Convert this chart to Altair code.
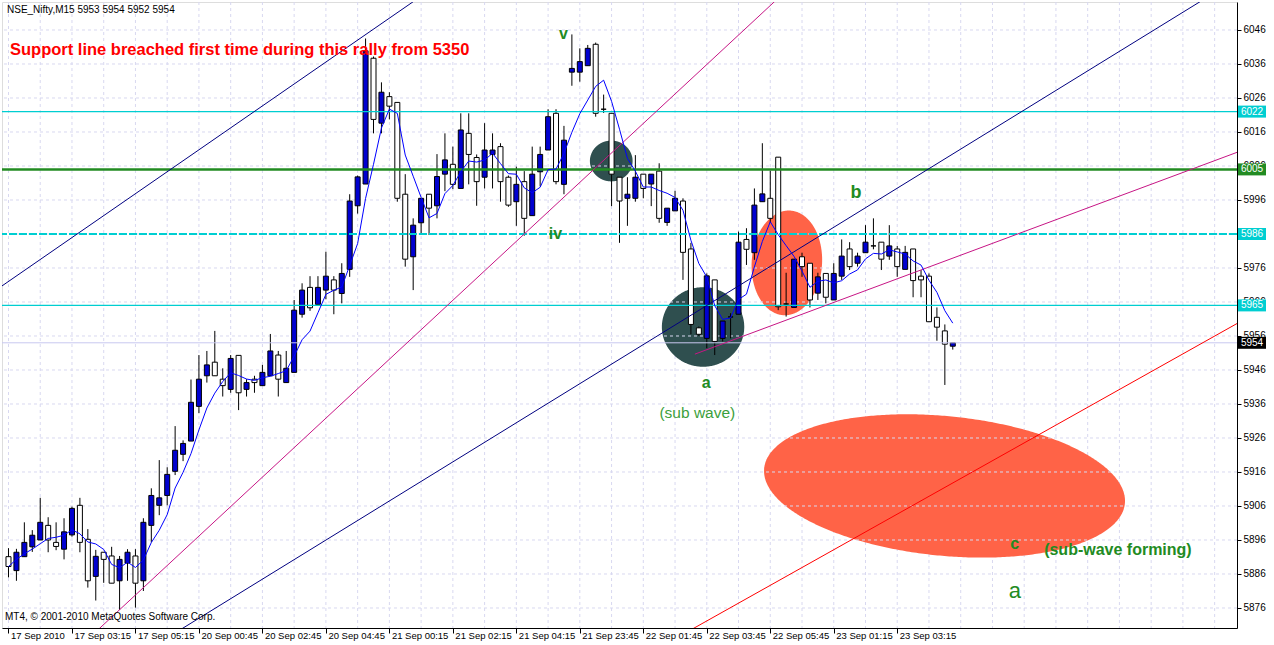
import altair as alt
import numpy as np
import pandas as pd

# ---- NSE_Nifty, M15 candles (one row per 15-minute bar) ----
opens = [5891.1, 5887.0, 5891.1, 5894.0, 5896.0, 5900.3, 5895.3, 5893.3, 5897.5, 5906.2,
         5896.2, 5885.3, 5892.4, 5891.3, 5884.0, 5889.2, 5891.3, 5884.0, 5900.3, 5906.2,
         5909.1, 5916.2, 5921.2, 5925.1, 5935.3, 5944.3, 5948.3, 5943.3, 5940.3, 5950.3,
         5940.3, 5943.3, 5941.4, 5944.3, 5950.4, 5942.3, 5945.3, 5962.4, 5970.3, 5965.3,
         5969.5, 5972.5, 5968.5, 5975.6, 5994.3, 6000.7, 6037.7, 6018.6, 6026.4, 6024.7,
         5997.7, 5979.3, 5989.3, 5997.7, 5994.3, 6003.6, 6006.5, 5999.4, 6015.6, 6008.5,
         6002.7, 6009.4, 6011.7, 6002.7, 5995.5, 6001.4, 5991.4, 6004.3, 6010.7, 6021.5,
         6000.6, 6033.6, 6033.6, 6035.5, 6041.8, 6022.7, 6021.5, 6002.7, 5996.5, 5996.5,
         6003.6, 6000.7, 6004.5, 5989.4, 5992.8, 5995.7, 5981.6, 5958.4, 5955.3, 5972.5,
         5955.3, 5961.6, 5962.4, 5984.4, 5980.5, 5995.5, 5996.5, 6008.6, 5965.4, 5964.4,
         5979.3, 5977.4, 5968.6, 5974.4, 5966.6, 5973.6, 5981.6, 5977.4, 5980.5, 5982.5,
         5983.6, 5979.5, 5981.6, 5975.6, 5981.6, 5973.6, 5973.6, 5961.5, 5957.5, 5953.0]
highs = [5893.6, 5893.4, 5901.2, 5898.9, 5908.4, 5902.7, 5901.2, 5902.4, 5905.8, 5908.4,
         5899.2, 5893.1, 5892.4, 5894.0, 5891.3, 5893.3, 5893.3, 5902.4, 5911.2, 5919.5,
         5917.4, 5929.5, 5925.3, 5943.2, 5950.4, 5951.6, 5957.5, 5946.5, 5950.4, 5950.3,
         5943.3, 5944.3, 5947.5, 5956.6, 5951.6, 5951.6, 5966.6, 5971.5, 5973.6, 5973.6,
         5980.8, 5973.6, 5977.4, 5997.7, 6003.2, 6043.5, 6038.2, 6030.6, 6027.7, 6024.7,
         6003.6, 5990.6, 5996.5, 5997.7, 6009.5, 6015.6, 6011.7, 6021.5, 6021.5, 6009.4,
         6018.6, 6015.6, 6012.7, 6003.2, 6005.8, 6004.5, 6011.7, 6011.7, 6022.7, 6022.7,
         6017.8, 6044.7, 6040.6, 6041.6, 6042.3, 6027.0, 6021.5, 6002.7, 6002.7, 6009.2,
         6003.6, 6003.6, 6006.8, 5993.6, 5998.7, 5996.5, 5983.4, 5958.8, 5974.4, 5972.5,
         5960.4, 5962.7, 5986.7, 5987.7, 5999.4, 6012.7, 6004.6, 6008.6, 5974.6, 5978.6,
         5980.5, 5977.4, 5974.6, 5974.4, 5977.4, 5984.4, 5983.6, 5980.5, 5988.6, 5990.6,
         5983.6, 5988.6, 5982.5, 5982.5, 5981.6, 5975.4, 5974.4, 5964.4, 5959.4, 5954.0]
lows = [5885.0, 5884.0, 5891.1, 5892.5, 5896.0, 5892.4, 5893.0, 5890.3, 5897.0, 5892.4,
        5882.0, 5878.2, 5883.4, 5883.3, 5875.4, 5884.0, 5876.1, 5881.0, 5895.3, 5903.3,
        5906.2, 5915.1, 5919.2, 5925.1, 5933.3, 5942.3, 5944.3, 5938.2, 5939.3, 5934.2,
        5938.2, 5939.3, 5941.4, 5944.3, 5938.2, 5942.3, 5945.3, 5961.4, 5963.4, 5965.3,
        5966.8, 5962.4, 5965.6, 5973.4, 5992.0, 6000.7, 6015.6, 6015.6, 6019.7, 5995.5,
        5976.4, 5969.5, 5985.7, 5985.7, 5990.6, 5998.6, 5999.2, 5999.4, 6000.6, 5994.3,
        5999.4, 5999.4, 5995.5, 5994.0, 5988.4, 5985.5, 5991.4, 6000.0, 6010.7, 6000.6,
        5997.7, 6029.6, 6030.8, 6035.5, 6020.5, 6021.6, 5994.2, 5983.4, 5988.4, 5995.5,
        5996.5, 5994.2, 5989.3, 5988.4, 5992.8, 5972.5, 5956.5, 5956.0, 5952.4, 5950.4,
        5954.4, 5955.3, 5962.4, 5976.9, 5978.4, 5995.5, 5989.3, 5963.6, 5961.7, 5964.4,
        5973.4, 5964.4, 5966.6, 5965.6, 5966.6, 5972.5, 5975.4, 5976.4, 5980.5, 5981.5,
        5975.4, 5978.4, 5973.4, 5975.6, 5967.4, 5967.4, 5960.2, 5954.6, 5941.6, 5952.0]
closes = [5888.2, 5892.4, 5895.3, 5897.4, 5901.2, 5896.0, 5894.1, 5898.4, 5905.3, 5895.3,
          5884.0, 5891.2, 5890.3, 5883.3, 5890.3, 5892.4, 5883.3, 5901.2, 5909.1, 5908.4,
          5915.3, 5922.4, 5924.4, 5936.5, 5943.3, 5947.5, 5944.3, 5941.4, 5949.4, 5939.3,
          5942.3, 5942.3, 5945.3, 5951.6, 5943.3, 5946.5, 5963.6, 5969.5, 5964.3, 5970.3,
          5973.6, 5969.5, 5974.4, 5995.7, 6002.8, 6039.9, 6019.7, 6027.7, 6023.6, 5996.5,
          5978.6, 5988.6, 5996.5, 5993.6, 6002.9, 6007.8, 6000.6, 6016.6, 6009.4, 6001.4,
          6010.7, 6010.7, 6001.4, 5994.5, 6000.6, 5990.6, 6003.6, 6009.4, 6020.5, 6001.4,
          6013.6, 6034.7, 6036.7, 6040.6, 6021.5, 6022.7, 6003.6, 5995.7, 5997.7, 6002.7,
          5999.4, 6003.6, 5990.6, 5993.6, 5996.5, 5980.6, 5959.4, 5956.5, 5973.7, 5954.4,
          5960.4, 5961.6, 5983.6, 5981.5, 5994.5, 5997.8, 5990.6, 5964.6, 5965.4, 5978.6,
          5976.4, 5966.6, 5973.4, 5967.4, 5974.4, 5979.5, 5976.4, 5979.5, 5983.6, 5982.5,
          5978.6, 5982.5, 5976.4, 5980.6, 5972.3, 5972.5, 5960.2, 5958.6, 5953.6, 5954.0]

# time axis labels, one every 8 bars (2 hours)
time_labels = ["17 Sep 2010", "17 Sep 03:15", "17 Sep 05:15", "20 Sep 00:45", "20 Sep 02:45",
               "20 Sep 04:45", "21 Sep 00:15", "21 Sep 02:15", "21 Sep 04:15", "21 Sep 23:45",
               "22 Sep 01:45", "22 Sep 03:45", "22 Sep 05:45", "23 Sep 01:15", "23 Sep 03:15"]
price_ticks = list(range(5876, 6047, 10))

# horizontal price levels and their axis tags
cyan_levels = [6022, 5965]
cyan_dashed_levels = [5986]
green_levels = [6005]
bid_price = [5954]
tag_prices = [6022, 6005, 5986, 5965, 5954]
tag_fill = ["#00ced1", "#228b22", "#00ced1", "#00ced1", "#000000"]

# trend lines: two anchors (bar, price) each, drawn between the from/to bars
trend_color = ["#000080", "#c71585", "#000080", "#c71585", "#ff0000"]
trend_b1 = [34.59, 13.96, 76.99, 89.59, 87.09]
trend_p1 = [6027.85, 5875.40, 5949.15, 5953.35, 5871.00]
trend_b2 = [45.84, 74.59, 120.84, 120.84, 154.11]
trend_p2 = [6046.00, 6006.79, 6012.18, 5980.50, 5958.74]
trend_from = [-5, -5, 20, 86.5, 80]
trend_to = [60, 100, 170, 170, 170]

# ellipses: centre (bar, price) and two conjugate half-axis vectors (bars, price)
ell_color = ["#2f4f4f", "#2f4f4f", "#ff6347", "#ff6347"]
ell_cb = [75.96, 87.53, 98.09, 117.96]
ell_cp = [6007.47, 5958.65, 5977.50, 5911.90]
ell_u = [(2.69, 0.0), (5.19, 0.0), (4.44, 0.0), (22.73, -5.15)]
ell_v = [(0.0, 6.0), (0.0, 11.7), (0.25, 15.4), (-0.84, -20.44)]

# wave annotations anchored to (bar, price)
wave_text = ["v", "iv", "b", "a", "c"]
wave_bar = [69.94, 68.94, 106.81, 87.94, 126.81]
wave_price = [6044.8, 5986.0, 5998.1, 5942.2, 5894.8]

W, H = 1235, 626
X_DOM = [-1.5 / 8, (W - 1.5) / 8]
Y_DOM = [6054.235 - H / 3.4, 6054.235]
FONT = "Liberation Sans"
GRID = "#d8d8f0"

xs = alt.Scale(domain=X_DOM, nice=False, zero=False)
ys = alt.Scale(domain=Y_DOM, nice=False, zero=False)
label_expr = "[" + ",".join("'%s'" % t for t in time_labels) + "][round(datum.value / 8)]"
x_axis = alt.Axis(values=list(range(0, 8 * len(time_labels), 8)), labelExpr=label_expr,
                  labelAlign="left", labelBaseline="top", labelPadding=-3, labelOffset=2,
                  tickSize=5, tickColor="black", domainColor="black", labelColor="black",
                  labelFont=FONT, labelFontSize=9.5, labelFlush=False, labelOverlap=False,
                  grid=False, title=None)
y_axis = alt.Axis(orient="right", values=price_ticks, format="d", labelAlign="left",
                  labelBaseline="middle", labelPadding=2, tickSize=4, tickColor="black",
                  domainColor="black", labelColor="black", labelFont=FONT, labelFontSize=10,
                  labelFlush=False, labelOverlap=False, grid=False, title=None)


def X(field):
    return alt.X(f"{field}:Q", scale=xs, axis=x_axis)


def Y(field):
    return alt.Y(f"{field}:Q", scale=ys, axis=y_axis)


candles = pd.DataFrame({"bar": range(len(opens)), "open": opens, "high": highs,
                        "low": lows, "close": closes})
candles["fill"] = np.where(candles["close"] > candles["open"], "#0000d0", "#ffffff")

# background grid
vgrid = alt.Chart(pd.DataFrame({"g": list(range(0, 156, 4))})).mark_rule(
    color=GRID, strokeDash=[3, 3], strokeWidth=1).encode(x=X("g"))
hgrid = alt.Chart(pd.DataFrame({"g": price_ticks})).mark_rule(
    color=GRID, strokeDash=[3, 3], strokeWidth=1).encode(y=Y("g"))


def ellipse_band(cx, cy, u, v, n=241):
    inv = np.linalg.inv(np.array([[u[0], v[0]], [u[1], v[1]]]))
    p, q = inv[0]
    r, s = inv[1]
    a = q * q + s * s
    half = np.hypot(u[0], v[0])
    dx = -half * np.cos(np.linspace(0, np.pi, n))
    b = 2 * (p * q + r * s) * dx
    c = (p * p + r * r) * dx * dx - 1
    root = np.sqrt(np.clip(b * b - 4 * a * c, 0, None))
    return cx + dx, cy + (-b - root) / (2 * a), cy + (-b + root) / (2 * a)


ell_rows = []
for k in range(len(ell_cb)):
    bx, lo, hi = ellipse_band(ell_cb[k], ell_cp[k], ell_u[k], ell_v[k])
    ell_rows.append(pd.DataFrame({"eid": k, "bx": bx, "lo": lo, "hi": hi, "col": ell_color[k]}))
ell_df = pd.concat(ell_rows, ignore_index=True)
ellipses = alt.Chart(ell_df).mark_area(opacity=1, interpolate="linear").encode(
    x=X("bx"), y=Y("lo"), y2="hi", detail="eid:N", color=alt.Color("col:N", scale=None))

# trend lines
trend_rows = []
for k in range(len(trend_b1)):
    slope = (trend_p2[k] - trend_p1[k]) / (trend_b2[k] - trend_b1[k])
    for b in (trend_from[k], trend_to[k]):
        trend_rows.append({"tid": k, "tb": b, "tp": trend_p1[k] + slope * (b - trend_b1[k]),
                           "col": trend_color[k]})
trends = alt.Chart(pd.DataFrame(trend_rows)).mark_line(clip=True, strokeWidth=1).encode(
    x=X("tb"), y=Y("tp"), detail="tid:N", color=alt.Color("col:N", scale=None))

# horizontal levels
lvl_cyan = alt.Chart(pd.DataFrame({"p": cyan_levels})).mark_rule(
    color="#00ced1", strokeWidth=1.3).encode(y=Y("p"))
lvl_cyan_dash = alt.Chart(pd.DataFrame({"p": cyan_dashed_levels})).mark_rule(
    color="#00ced1", strokeWidth=2, strokeDash=[8, 2]).encode(y=Y("p"))
lvl_green = alt.Chart(pd.DataFrame({"p": green_levels})).mark_rule(
    color="#228b22", strokeWidth=2.5).encode(y=Y("p"))
lvl_bid = alt.Chart(pd.DataFrame({"p": bid_price})).mark_rule(
    color="#c8c8f0", strokeWidth=1).encode(y=Y("p"))

# candles
base = alt.Chart(candles)
wicks = base.mark_rule(color="black", strokeWidth=1).encode(x=X("bar"), y=Y("low"), y2="high")
bodies = base.mark_bar(size=5, stroke="black", strokeWidth=1).encode(
    x=X("bar"), y=Y("open"), y2="close", fill=alt.Fill("fill:N", scale=None))
ma = base.transform_window(ma="mean(close)", frame=[-4, 0], sort=[{"field": "bar"}]).mark_line(
    color="#0000ff", strokeWidth=1).encode(x=X("bar"), y=Y("ma"))

# wave labels
waves = pd.DataFrame({"t": wave_text, "b": wave_bar, "p": wave_price})
wave_small = alt.Chart(waves[waves.t.isin(["v", "iv", "a", "c"])]).mark_text(
    font=FONT, fontSize=16, fontWeight="bold", color="#228b22").encode(x=X("b"), y=Y("p"), text="t:N")
wave_b = alt.Chart(waves[waves.t == "b"]).mark_text(
    font=FONT, fontSize=18, fontWeight="bold", color="#228b22").encode(x=X("b"), y=Y("p"), text="t:N")
sub_wave = alt.Chart(pd.DataFrame({"t": ["(sub wave)"], "b": [86.81], "p": [5933.35]})).mark_text(
    font=FONT, fontSize=15.5, color="#3c9f3c").encode(x=X("b"), y=Y("p"), text="t:N")
forming = alt.Chart(pd.DataFrame({"t": ["(sub-wave forming)"], "b": [139.81], "p": [5893.06]})).mark_text(
    font=FONT, fontSize=16, fontWeight="bold", color="#228b22").encode(x=X("b"), y=Y("p"), text="t:N")
big_a = alt.Chart(pd.DataFrame({"t": ["a"], "b": [126.81], "p": [5881.0]})).mark_text(
    font=FONT, fontSize=22, color="#228b22").encode(x=X("b"), y=Y("p"), text="t:N")

# screen-anchored labels
header = alt.Chart(pd.DataFrame({"t": ["NSE_Nifty,M15  5953 5954 5952 5954"]})).mark_text(
    font=FONT, fontSize=10, color="black", align="left", baseline="middle").encode(
    x=alt.value(5), y=alt.value(8), text="t:N")
note = alt.Chart(pd.DataFrame({"t": ["Support line breached first time during this rally from 5350"]})).mark_text(
    font=FONT, fontSize=16.5, fontWeight="bold", color="#ff0000", align="left", baseline="middle").encode(
    x=alt.value(8), y=alt.value(48), text="t:N")
copyright_ = alt.Chart(pd.DataFrame({"t": ["MT4, \u00a9 2001-2010 MetaQuotes Software Corp."]})).mark_text(
    font=FONT, fontSize=10, color="black", align="left", baseline="middle").encode(
    x=alt.value(3), y=alt.value(615), text="t:N")

# price tags on the right axis
tags = pd.DataFrame({"p": tag_prices, "f": tag_fill, "t": [str(v) for v in tag_prices]})
tag_box = alt.Chart(tags).mark_rect(height=12).encode(
    x=alt.value(W + 1), x2=alt.value(W + 29), y=Y("p"), color=alt.Color("f:N", scale=None))
tag_txt = alt.Chart(tags).mark_text(font=FONT, fontSize=10, color="white", align="center",
                                    baseline="middle").encode(x=alt.value(W + 15), y=Y("p"), text="t:N")

chart = alt.layer(
    vgrid, ellipses, hgrid, wicks, bodies, lvl_bid, lvl_cyan, lvl_cyan_dash, lvl_green, trends, ma,
    wave_small, wave_b, sub_wave, forming, big_a, header, note, copyright_, tag_box, tag_txt,
).properties(
    width=W, height=H,
    padding={"left": 2, "top": 2, "right": 37, "bottom": 17},
    autosize=alt.AutoSizeParams(type="none"),
).configure_view(stroke="black", strokeWidth=1).configure(background="white")

chart.save("out.html", embed_options={"renderer": "svg", "actions": False})
